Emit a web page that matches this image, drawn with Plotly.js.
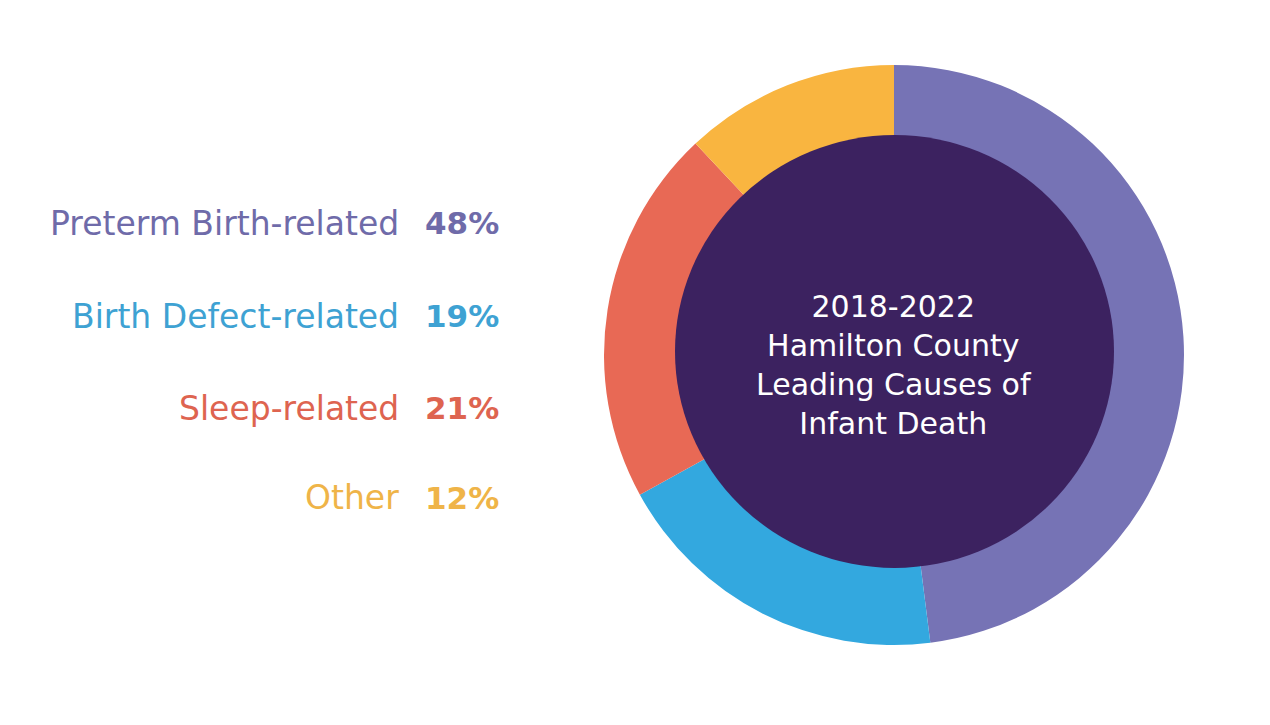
<!DOCTYPE html>
<html>
<head>
<meta charset="utf-8">
<script src="https://cdn.plot.ly/plotly-3.0.1.min.js"></script>
<style>html,body{margin:0;padding:0;background:#fff;}#chart{width:1270px;height:725px;}</style>
</head>
<body>
<div id="chart"></div>
<script>
// Data
const categories = ["Preterm Birth-related", "Birth Defect-related", "Sleep-related", "Other"];
const values = [48, 19, 21, 12];
const centerTitle = ["2018-2022", "Hamilton County", "Leading Causes of", "Infant Death"];

// Styles
const sliceColors = ["#7673b5", "#33a8df", "#e86955", "#f9b540"];
const textColors = ["#6f6ba9", "#3ea2d3", "#de6450", "#efb448"];
const W = 1270, H = 725;
const FONT = "DejaVu Sans, sans-serif";

const trace = {
  type: "pie",
  labels: categories,
  values: values,
  sort: false,
  direction: "clockwise",
  rotation: 0,
  hole: 0.72,
  textinfo: "none",
  hoverinfo: "label+percent",
  marker: {colors: sliceColors, line: {width: 0}},
  domain: {x: [604 / W, 1184 / W], y: [1 - 645 / H, 1 - 65 / H]},
  showlegend: false
};

const annotations = [];
const rowY = [223, 316, 408, 498];
categories.forEach((c, i) => {
  annotations.push({
    xref: "paper", yref: "paper", x: 401 / W, y: 1 - rowY[i] / H,
    xanchor: "right", yanchor: "middle", showarrow: false,
    text: c, font: {family: FONT, size: 33, color: textColors[i]}
  });
  annotations.push({
    xref: "paper", yref: "paper", x: 501 / W, y: 1 - rowY[i] / H,
    xanchor: "right", yanchor: "middle", showarrow: false,
    text: "<b>" + values[i] + "%</b>", font: {family: FONT, size: 31, color: textColors[i]}
  });
});
annotations.push({
  xref: "paper", yref: "paper", x: 894 / W, y: 1 - 365 / H,
  xanchor: "center", yanchor: "middle", showarrow: false,
  text: centerTitle.join("<br>"), align: "center",
  font: {family: FONT, size: 30, color: "#ffffff"}
});

const layout = {
  width: W, height: H,
  margin: {l: 0, r: 0, t: 0, b: 0},
  paper_bgcolor: "#ffffff", plot_bgcolor: "#ffffff",
  shapes: [{
    type: "circle", xref: "paper", yref: "paper",
    x0: 675 / W, x1: 1114 / W, y0: 1 - 568 / H, y1: 1 - 135 / H,
    fillcolor: "#3c2260", line: {width: 0}, layer: "above"
  }],
  annotations: annotations
};

Plotly.newPlot("chart", [trace], layout, {displayModeBar: false, staticPlot: true});
</script>
</body>
</html>
